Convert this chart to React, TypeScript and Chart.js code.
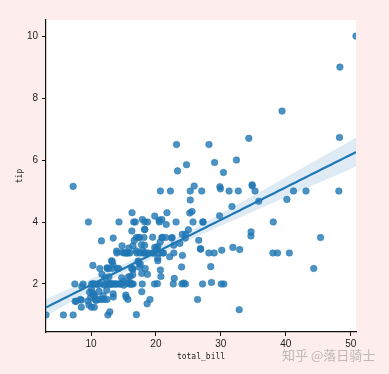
import React, { useEffect, useRef } from "react";
import { Chart, registerables } from "chart.js";

Chart.register(...registerables);

const totalBill = [
  16.99, 10.34, 21.01, 23.68, 24.59, 25.29, 8.77, 26.88, 15.04, 14.78, 10.27, 35.26, 15.42, 18.43, 14.83, 21.58,
  10.33, 16.29, 16.97, 20.65, 17.92, 20.29, 15.77, 39.42, 19.82, 17.81, 13.37, 12.69, 21.7, 19.65, 9.55, 18.35,
  15.06, 20.69, 17.78, 24.06, 16.31, 16.93, 18.69, 31.27, 16.04, 17.46, 13.94, 9.68, 30.4, 18.29, 22.23, 32.4,
  28.55, 18.04, 12.54, 10.29, 34.81, 9.94, 25.56, 19.49, 38.01, 26.41, 11.24, 48.27, 20.29, 13.81, 11.02, 18.29,
  17.59, 20.08, 16.45, 3.07, 20.23, 15.01, 12.02, 17.07, 26.86, 25.28, 14.73, 10.51, 17.92, 27.2, 22.76, 17.29,
  19.44, 16.66, 10.07, 32.68, 15.98, 34.83, 13.03, 18.28, 24.71, 21.16, 28.97, 22.49, 5.75, 16.32, 22.75, 40.17,
  27.28, 12.03, 21.01, 12.46, 11.35, 15.38, 44.3, 22.42, 20.92, 15.36, 20.49, 25.21, 18.24, 14.31, 14.0, 7.25,
  38.07, 23.95, 25.71, 17.31, 29.93, 10.65, 12.43, 24.08, 11.69, 13.42, 14.26, 15.95, 12.48, 29.8, 8.52, 14.52,
  11.38, 22.82, 19.08, 20.27, 11.17, 12.26, 18.26, 8.51, 10.33, 14.15, 16.0, 13.16, 17.47, 34.3, 41.19, 27.05,
  16.43, 8.35, 18.64, 11.87, 9.78, 7.51, 14.07, 13.13, 17.26, 24.55, 19.77, 29.85, 48.17, 25.0, 13.39, 16.49,
  21.5, 12.66, 16.21, 13.81, 17.51, 24.52, 20.76, 31.71, 10.59, 10.63, 50.81, 15.81, 7.25, 31.85, 16.82, 32.9,
  17.89, 14.48, 9.6, 34.63, 34.65, 23.33, 45.35, 23.17, 40.55, 20.69, 20.9, 30.46, 18.15, 23.1, 15.69, 19.81,
  28.44, 15.48, 16.58, 7.56, 10.34, 43.11, 13.0, 13.51, 18.71, 12.74, 13.0, 16.4, 20.53, 16.47, 26.59, 38.73,
  24.27, 12.76, 30.06, 25.89, 48.33, 13.27, 28.17, 12.9, 28.15, 11.59, 7.74, 30.14, 12.16, 13.42, 8.58, 15.98,
  13.42, 16.27, 10.09, 20.45, 13.28, 22.12, 24.01, 15.69, 11.61, 10.77, 15.53, 10.07, 12.6, 32.83, 35.83, 29.03,
  27.18, 22.67, 17.82, 18.78,
];

const tip = [
  1.01, 1.66, 3.5, 3.31, 3.61, 4.71, 2.0, 3.12, 1.96, 3.23, 1.71, 5.0, 1.57, 3.0, 3.02, 3.92,
  1.67, 3.71, 3.5, 3.35, 4.08, 2.75, 2.23, 7.58, 3.18, 2.34, 2.0, 2.0, 4.3, 3.0, 1.45, 2.5,
  3.0, 2.45, 3.27, 3.6, 2.0, 3.07, 2.31, 5.0, 2.24, 2.54, 3.06, 1.32, 5.6, 3.0, 5.0, 6.0,
  2.05, 3.0, 2.5, 2.6, 5.2, 1.56, 4.34, 3.51, 3.0, 1.5, 1.76, 6.73, 3.21, 2.0, 1.98, 3.76,
  2.64, 3.15, 2.47, 1.0, 2.01, 2.09, 1.97, 3.0, 3.14, 5.0, 2.2, 1.25, 3.08, 4.0, 3.0, 2.71,
  3.0, 3.4, 1.83, 5.0, 2.03, 5.17, 2.0, 4.0, 5.85, 3.0, 3.0, 3.5, 1.0, 4.3, 3.25, 4.73,
  4.0, 1.5, 3.0, 1.5, 2.5, 3.0, 2.5, 3.48, 4.08, 1.64, 4.06, 4.29, 3.76, 4.0, 3.0, 1.0,
  4.0, 2.55, 4.0, 3.5, 5.07, 1.5, 1.8, 2.92, 2.31, 1.68, 2.5, 2.0, 2.52, 4.2, 1.48, 2.0,
  2.0, 2.18, 1.5, 2.83, 1.5, 2.0, 3.25, 1.25, 2.0, 2.0, 2.0, 2.75, 3.5, 6.7, 5.0, 5.0,
  2.3, 1.5, 1.36, 1.63, 1.73, 2.0, 2.5, 2.0, 2.74, 2.0, 2.0, 5.14, 5.0, 3.75, 2.61, 2.0,
  3.5, 2.5, 2.0, 2.0, 3.0, 3.48, 2.24, 4.5, 1.61, 2.0, 10.0, 3.16, 5.15, 3.18, 4.0, 3.11,
  2.0, 2.0, 4.0, 3.55, 3.68, 5.65, 3.5, 6.5, 3.0, 5.0, 3.5, 2.0, 3.5, 4.0, 1.5, 4.19,
  2.56, 2.02, 4.0, 1.44, 2.0, 5.0, 2.0, 2.0, 4.0, 2.01, 2.0, 2.5, 4.0, 3.23, 3.41, 3.0,
  2.03, 2.23, 2.0, 5.16, 9.0, 2.5, 6.5, 1.1, 3.0, 1.5, 1.44, 3.09, 2.2, 3.48, 1.92, 3.0,
  1.58, 2.5, 2.0, 3.0, 2.72, 2.88, 2.0, 3.0, 3.39, 1.47, 3.0, 1.25, 1.0, 1.17, 4.67, 5.92,
  2.0, 2.0, 1.75, 3.0,
];

const xTicks = [10, 20, 30, 40, 50];
const yTicks = [2, 4, 6, 8, 10];
const xLabel = "total_bill";
const yLabel = "tip";
const watermark = "知乎 @落日骑士";

const BLUE = "#1f77b4";

function fit() {
  const n = totalBill.length;
  const mx = totalBill.reduce((a, b) => a + b, 0) / n;
  const my = tip.reduce((a, b) => a + b, 0) / n;
  let sxx = 0, sxy = 0;
  for (let i = 0; i < n; i++) {
    sxx += (totalBill[i] - mx) ** 2;
    sxy += (totalBill[i] - mx) * (tip[i] - my);
  }
  const b = sxy / sxx;
  const a = my - b * mx;
  let sse = 0;
  for (let i = 0; i < n; i++) sse += (tip[i] - a - b * totalBill[i]) ** 2;
  const s = Math.sqrt(sse / (n - 2));
  const xmin = Math.min(...totalBill);
  const xmax = Math.max(...totalBill);
  const line: any[] = [], lo: any[] = [], hi: any[] = [];
  const steps = 100;
  for (let k = 0; k < steps; k++) {
    const x = xmin + ((xmax - xmin) * k) / (steps - 1);
    const y = a + b * x;
    const se = s * Math.sqrt(1 / n + (x - mx) ** 2 / sxx) * 1.97;
    line.push({ x, y });
    lo.push({ x, y: y - se });
    hi.push({ x, y: y + se });
  }
  return { line, lo, hi, xmin, xmax };
}

export default function App() {
  const ref = useRef<HTMLCanvasElement>(null);
  useEffect(() => {
    const { line, lo, hi, xmin, xmax } = fit();
    const whiteArea = {
      id: "whiteArea",
      beforeDraw(chart: any) {
        const { ctx, chartArea } = chart;
        ctx.save();
        ctx.fillStyle = "#ffffff";
        ctx.fillRect(chartArea.left, chartArea.top, chartArea.right - chartArea.left, chartArea.bottom - chartArea.top);
        ctx.restore();
      },
    };
    const tickFont = { family: "'Liberation Sans Narrow', 'Liberation Sans', sans-serif", size: 10 };
    const titleFont = { family: "'DejaVu Sans Mono', monospace", size: 8 };
    const chart = new Chart(ref.current!, {
      type: "scatter",
      data: {
        datasets: [
          {
            data: lo,
            showLine: true,
            pointRadius: 0,
            borderWidth: 0,
            borderColor: "rgba(0,0,0,0)",
            order: 2,
          },
          {
            data: hi,
            showLine: true,
            pointRadius: 0,
            borderWidth: 0,
            borderColor: "rgba(0,0,0,0)",
            backgroundColor: "rgba(31,119,180,0.15)",
            fill: "-1",
            order: 2,
          },
          {
            data: line,
            showLine: true,
            pointRadius: 0,
            borderWidth: 2.2,
            borderColor: BLUE,
            order: 1,
          },
          {
            data: totalBill.map((x, i) => ({ x, y: tip[i] })),
            pointRadius: 3.3,
            borderWidth: 0.6,
            backgroundColor: "rgba(31,119,180,0.8)",
            borderColor: "rgba(31,119,180,0.8)",
            order: 3,
            clip: 0 as any,
          },
        ],
      },
      options: {
        animation: false,
        responsive: false,
        events: [],
        layout: { padding: { top: 20, right: 33, left: 0, bottom: 0 } },
        plugins: { legend: { display: false }, tooltip: { enabled: false } },
        scales: {
          x: {
            type: "linear",
            min: xmin,
            max: xmax,
            afterBuildTicks: (s: any) => {
              s.ticks = xTicks.map((v) => ({ value: v }));
            },
            afterFit: (s: any) => {
              s.height = 42;
            },
            grid: { drawOnChartArea: false, drawTicks: true, tickLength: 4, tickColor: "#111", tickWidth: 1 },
            border: { display: true, color: "#111", width: 1.2 },
            ticks: { color: "#222", font: tickFont, padding: 2, maxRotation: 0 },
            title: { display: true, text: xLabel, color: "#222", font: titleFont, padding: { top: 0, bottom: 12 } },
          },
          y: {
            type: "linear",
            min: 0.45,
            max: 10.52,
            afterBuildTicks: (s: any) => {
              s.ticks = yTicks.map((v) => ({ value: v }));
            },
            afterFit: (s: any) => {
              s.width = 46;
            },
            grid: { drawOnChartArea: false, drawTicks: true, tickLength: 4, tickColor: "#111", tickWidth: 1 },
            border: { display: true, color: "#111", width: 1.2 },
            ticks: { color: "#222", font: tickFont, padding: 4 },
            title: { display: true, text: yLabel, color: "#222", font: titleFont, padding: { top: 15, bottom: 0 } },
          },
        },
      },
      plugins: [whiteArea],
    });
    return () => chart.destroy();
  }, []);

  return (
    <div
      style={{
        position: "fixed",
        left: 0,
        top: 0,
        width: 389,
        height: 374,
        background: "#fdeeed",
      }}
    >
      <canvas ref={ref} width={389} height={374} style={{ display: "block" }} />
      <div
        style={{
          position: "absolute",
          left: 282,
          top: 347,
          fontFamily: "'Noto Sans CJK SC', sans-serif",
          fontSize: 13,
          color: "rgba(165,165,165,0.75)",
          whiteSpace: "nowrap",
          lineHeight: "16px",
        }}
      >
        {watermark}
      </div>
    </div>
  );
}
